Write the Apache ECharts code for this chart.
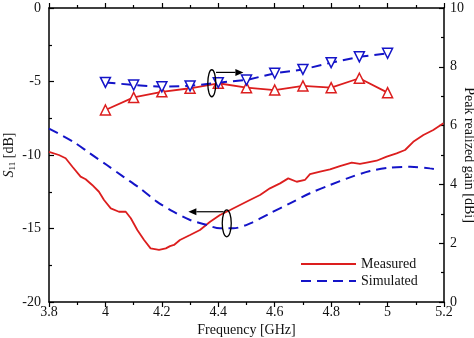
<!DOCTYPE html>
<html><head><meta charset="utf-8">
<script src="https://cdn.jsdelivr.net/npm/echarts@6/dist/echarts.min.js"></script>
<style>html,body{margin:0;padding:0;background:#fff}#c{width:474px;height:338px}</style>
</head><body><div id="c"></div>
<script>
// S11 measured [GHz, dB]
var s11MeasFreq = [3.800,3.835,3.859,3.883,3.912,3.930,3.953,3.977,3.995,4.019,4.048,4.072,4.090,4.113,4.137,4.160,4.190,4.214,4.229,4.243,4.264,4.300,4.335,4.371,4.406,4.442,4.477,4.512,4.548,4.583,4.619,4.648,4.678,4.707,4.725,4.761,4.796,4.831,4.873,4.902,4.926,4.961,4.997,5.032,5.062,5.091,5.127,5.162,5.198];
var s11MeasVal  = [-9.79,-10.0,-10.22,-10.8,-11.47,-11.65,-12.04,-12.5,-13.06,-13.63,-13.86,-13.86,-14.3,-15.1,-15.78,-16.35,-16.46,-16.35,-16.2,-16.12,-15.78,-15.44,-15.1,-14.54,-14.08,-13.74,-13.4,-13.06,-12.72,-12.27,-11.93,-11.59,-11.82,-11.7,-11.3,-11.13,-10.98,-10.75,-10.52,-10.61,-10.52,-10.39,-10.11,-9.89,-9.66,-9.1,-8.64,-8.3,-7.84];
// S11 simulated
var s11SimFreq = [3.80,3.886,3.945,4.005,4.063,4.123,4.182,4.241,4.30,4.359,4.406,4.453,4.513,4.583,4.654,4.725,4.796,4.867,4.938,5.009,5.08,5.15,5.18];
var s11SimVal  = [-8.2,-9.1,-9.89,-10.68,-11.47,-12.27,-13.17,-13.86,-14.42,-14.76,-14.99,-14.99,-14.65,-13.97,-13.29,-12.6,-12.04,-11.52,-11.09,-10.86,-10.8,-10.91,-11.0];
// Peak realized gain [dBi]
var gainFreq    = [4.0,4.1,4.2,4.3,4.4,4.5,4.6,4.7,4.8,4.9,5.0];
var gainMeasVal = [6.53,6.96,7.15,7.27,7.44,7.29,7.21,7.35,7.29,7.61,7.12];
var gainSimVal  = [7.47,7.38,7.32,7.35,7.46,7.55,7.78,7.91,8.14,8.34,8.46];

function zip(a,b){return a.map(function(v,i){return [v,b[i]];});}
var RED='#dc1e1e', BLUE='#1414c8';
var FONT='Liberation Serif';
var lbl={fontFamily:FONT,fontSize:14,color:'#111'};
var chart=echarts.init(document.getElementById('c'));
var tickCommon={axisLine:{show:true,lineStyle:{color:'#000',width:1.5}},
  axisTick:{show:true,inside:true,length:5,lineStyle:{color:'#000',width:1.2}},
  minorTick:{show:true,splitNumber:2,length:3,lineStyle:{color:'#000',width:1.2}},
  splitLine:{show:false},nameMoveOverlap:false};
chart.setOption({
  animation:false,
  grid:{left:49,right:30,top:8,bottom:36,outerBoundsMode:'none',containLabel:false},
  xAxis:[
    Object.assign({type:'value',min:3.8,max:5.2,interval:0.2,position:'bottom',
      name:'Frequency [GHz]',nameLocation:'middle',nameGap:21,nameTextStyle:{fontFamily:FONT,fontSize:14,color:'#111'},
      axisLabel:Object.assign({margin:3,formatter:function(v){return +v.toFixed(1)+'';}},lbl)},tickCommon),
    Object.assign({type:'value',min:3.8,max:5.2,interval:0.2,position:'top',axisLabel:{show:false}},tickCommon)
  ],
  yAxis:[
    Object.assign({type:'value',min:-20,max:0,interval:5,position:'left',
      name:'{i|S}{s|11} [dB]',nameLocation:'middle',nameGap:32,
      nameTextStyle:{fontFamily:FONT,fontSize:14,color:'#111',rich:{i:{fontFamily:FONT,fontSize:14,fontStyle:'italic',color:'#111'},s:{fontFamily:FONT,fontSize:9,color:'#111',verticalAlign:'bottom',padding:[6,0,0,0]}}},
      axisLabel:Object.assign({margin:8},lbl)},tickCommon),
    Object.assign({type:'value',min:0,max:10,interval:2,position:'right',
      name:'Peak realized gain [dBi]',nameLocation:'middle',nameGap:18,nameRotate:-90,
      nameTextStyle:{fontFamily:FONT,fontSize:14,color:'#111'},
      axisLabel:Object.assign({margin:6},lbl)},tickCommon)
  ],
  legend:{data:['Measured','Simulated'],orient:'vertical',left:295,top:252,itemWidth:55,itemHeight:14,itemGap:3,
    itemStyle:{opacity:0},
    textStyle:{fontFamily:FONT,fontSize:14,color:'#111'}},
  series:[
    {name:'Measured',type:'line',xAxisIndex:0,yAxisIndex:0,data:zip(s11MeasFreq,s11MeasVal),symbol:'none',
      lineStyle:{color:RED,width:1.8},itemStyle:{color:RED}},
    {name:'Simulated',type:'line',xAxisIndex:0,yAxisIndex:0,data:zip(s11SimFreq,s11SimVal),symbol:'none',smooth:0.3,
      lineStyle:{color:BLUE,width:2,type:[10,6]},itemStyle:{color:BLUE}},
    {name:'Measured gain',type:'line',xAxisIndex:0,yAxisIndex:1,data:zip(gainFreq,gainMeasVal),symbol:'triangle',symbolSize:10,
      lineStyle:{color:RED,width:1.8},itemStyle:{color:'#fff',borderColor:RED,borderWidth:1.5}},
    {name:'Simulated gain',type:'line',xAxisIndex:0,yAxisIndex:1,data:zip(gainFreq,gainSimVal),symbol:'triangle',symbolRotate:180,symbolSize:10,
      lineStyle:{color:BLUE,width:2,type:[10,6]},itemStyle:{color:'#fff',borderColor:BLUE,borderWidth:1.5}}
  ]
});
function px(ax,pt){return chart.convertToPixel({xAxisIndex:0,yAxisIndex:ax},pt);}
function arrow(a,b){
  var dir=b[0]>a[0]?1:-1, L=8, W=3.5;
  return [
    {type:'line',shape:{x1:a[0],y1:a[1],x2:b[0]-dir*L,y2:b[1]},style:{stroke:'#000',lineWidth:1.2},z:100},
    {type:'polygon',shape:{points:[[b[0],b[1]],[b[0]-dir*L,b[1]-W],[b[0]-dir*L,b[1]+W]]},style:{fill:'#000'},z:100}
  ];
}
var e1=px(1,[4.377,7.44]), a1s=px(1,[4.392,7.81]), a1e=px(1,[4.489,7.81]);
var e2=px(0,[4.430,-14.65]), a2s=px(0,[4.419,-13.86]), a2e=px(0,[4.294,-13.86]);
var g=[
  {type:'ellipse',shape:{cx:e1[0],cy:e1[1],rx:4,ry:13.5},style:{fill:null,stroke:'#000',lineWidth:1.3},z:100},
  {type:'ellipse',shape:{cx:e2[0],cy:e2[1],rx:4.5,ry:13.5},style:{fill:null,stroke:'#000',lineWidth:1.3},z:100}
].concat(arrow(a1s,a1e)).concat(arrow(a2s,a2e));
chart.setOption({graphic:g});
</script></body></html>
